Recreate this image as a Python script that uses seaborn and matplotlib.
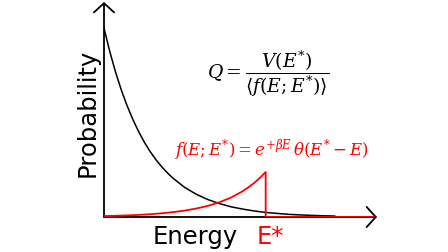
import numpy as np
import pandas as pd
import matplotlib
matplotlib.use("Agg")
import matplotlib.pyplot as plt
import seaborn as sns

# values (energy units, probability units)
energy = [0, 0.25, 0.5, 0.75, 1, 1.25, 1.5, 1.75, 2, 2.25, 2.5, 2.75, 3,
          3.5, 4, 4.5, 5, 5.5, 6, 6.5, 7, 7.5, 8, 8.5, 9, 9.5, 10]
density = [1.000, 0.876, 0.767, 0.672, 0.589, 0.516, 0.452, 0.395, 0.346,
           0.303, 0.266, 0.233, 0.204, 0.156, 0.120, 0.092, 0.071, 0.054,
           0.042, 0.032, 0.024, 0.019, 0.014, 0.011, 0.0085, 0.0065, 0.005]

bias_energy = [0, 0.5, 1, 1.5, 2, 2.5, 3, 3.5, 4, 4.5, 5, 5.5, 6, 6.25,
               6.5, 6.75, 7, 7, 11.7]
bias = [0.0049, 0.0064, 0.0085, 0.0112, 0.0148, 0.0196, 0.026, 0.034,
        0.045, 0.059, 0.078, 0.103, 0.136, 0.157, 0.180, 0.207, 0.238,
        0.0, 0.0]

sns.set_style("white")
plt.rcParams['mathtext.fontset'] = 'dejavuserif'
plt.rcParams['text.color'] = 'black'

fig = plt.figure(figsize=(4.48, 2.52), dpi=100)
ax = fig.add_axes([104 / 448, 35 / 252, 273 / 448, 215 / 252])
ax.set_xlim(0, 11.82)
ax.set_ylim(0, 1.138)
for s in ax.spines.values():
    s.set_visible(False)
ax.set_xticks([])
ax.set_yticks([])

# axes with open arrow heads
arrow = dict(arrowstyle='->, head_length=0.3, head_width=0.33', lw=1.3,
             color='black', mutation_scale=22, shrinkA=0, shrinkB=0)
ax.annotate('', xy=(0, 1.138), xytext=(0, 0), arrowprops=arrow,
            annotation_clip=False, zorder=1)
ax.annotate('', xy=(11.82, 0), xytext=(0, 0), arrowprops=arrow,
            annotation_clip=False, zorder=1)

df_p = pd.DataFrame({'E': energy, 'P': density})
df_f = pd.DataFrame({'E': bias_energy, 'f': bias})
sns.lineplot(data=df_p, x='E', y='P', color='black', lw=1.1, ax=ax,
             estimator=None, sort=False, zorder=3)
sns.lineplot(data=df_f, x='E', y='f', color='red', lw=1.3, ax=ax,
             estimator=None, sort=False, zorder=4)
ax.set_xlabel('')
ax.set_ylabel('')

fig.text(88 / 448, 1 - 113 / 252, 'Probability', rotation=90, fontsize=17.5,
         ha='center', va='center')
fig.text(195 / 448, 1 - 237 / 252, 'Energy', fontsize=17.5,
         ha='center', va='center')
fig.text(270 / 448, 1 - 237 / 252, 'E*', fontsize=17.5, color='red',
         ha='center', va='center')

fig.text(268 / 448, 1 - 74 / 252,
         r'$Q = \dfrac{V(E^{*})}{\langle f(E;E^{*})\rangle}$',
         fontsize=13.5, ha='center', va='center')
fig.text(272 / 448, 1 - 150 / 252,
         r'$f(E;E^{*}) = e^{+\beta E}\,\theta(E^{*} - E)$',
         fontsize=12, color='red', ha='center', va='center')

fig.savefig('out.png', dpi=100)
